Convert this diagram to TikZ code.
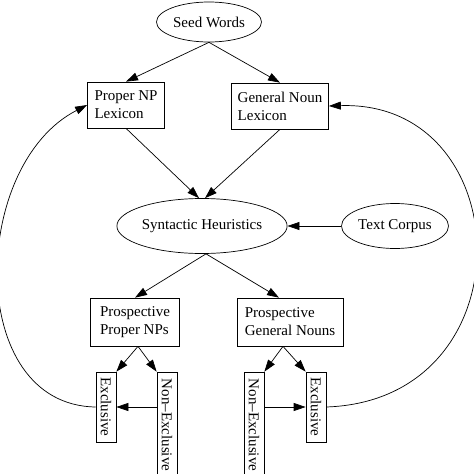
\documentclass[tikz,border=0pt]{standalone}
\usepackage{fontspec}
\setmainfont{Liberation Serif}
\usetikzlibrary{shapes.geometric,arrows.meta}

\begin{document}
\begin{tikzpicture}[x=1pt,y=-1pt,line width=0.7pt]
\tikzset{every node/.style={font=\fontsize{15}{18}\selectfont}}
\tikzset{oval/.style={draw,ellipse,inner sep=0pt}, lexbox/.style={draw,rectangle,align=left,inner xsep=6pt,minimum height=46pt}}
\tikzset{tallbox/.style={draw,rectangle,rotate=-90,inner sep=0pt,minimum height=20pt}}
\tikzset{>={Triangle[length=12pt,width=8pt]}}
\clip (0,0) rectangle (474,474);
% ovals and boxes
\node[oval,minimum width=105pt,minimum height=40pt] (seed) at (209,22) {Seed Words};
\node[lexbox,minimum width=77pt] (pnp) at (126,105) {Proper NP\\Lexicon};
\node[lexbox,minimum width=97pt] (gnl) at (280,106) {General Noun\\Lexicon};
\node[oval,minimum width=165pt,minimum height=55pt] (syn) at (202,226) {Syntactic Heuristics};
\node[oval,minimum width=107pt,minimum height=45pt] (tc) at (395,226) {Text Corpus};
\node[lexbox,minimum width=89pt,minimum height=48pt] (ppn) at (135,322) {Prospective\\Proper NPs};
\node[lexbox,minimum width=106pt,minimum height=48pt] (gnn) at (290,322) {Prospective\\General Nouns};
\node[tallbox,minimum width=70pt] (exl) at (106,407) {Exclusive};
\node[tallbox,minimum width=106pt] (nxl) at (167,425) {Non--Exclusive};
\node[tallbox,minimum width=106pt] (nxr) at (254,425) {Non--Exclusive};
\node[tallbox,minimum width=70pt] (exr) at (316,407) {Exclusive};
% edges
\draw[->] (seed.south) -- (pnp.north);
\draw[->] (seed.south) -- (gnl.north);
\draw[->] (pnp.south) -- ([xshift=-3pt]syn.north);
\draw[->] (gnl.south) -- ([xshift=3pt]syn.north);
\draw[->] (tc) -- (syn);
\draw[->] ([xshift=4pt]syn.south) -- (ppn.north);
\draw[->] ([xshift=4pt]syn.south) -- ([xshift=-11pt]gnn.north);
\draw[->] ([xshift=3pt]ppn.south) -- (exl.north west);
\draw[->] ([xshift=3pt]ppn.south) -- (nxl.south west);
\draw[->] ([xshift=-7pt]gnn.south) -- (nxr.north west);
\draw[->] ([xshift=-7pt]gnn.south) -- (exr.south west);
\draw[->] (nxl.south |- exl) -- (exl);
\draw[->] (nxr.north |- exr) -- (exr);
% feedback loops
\draw[->] (exl.south) .. controls (-35,405) and (-30,165) .. (pnp.west);
\draw[->] (exr.north) .. controls (530,400) and (520,100) .. (gnl.east);
\end{tikzpicture}
\end{document}
